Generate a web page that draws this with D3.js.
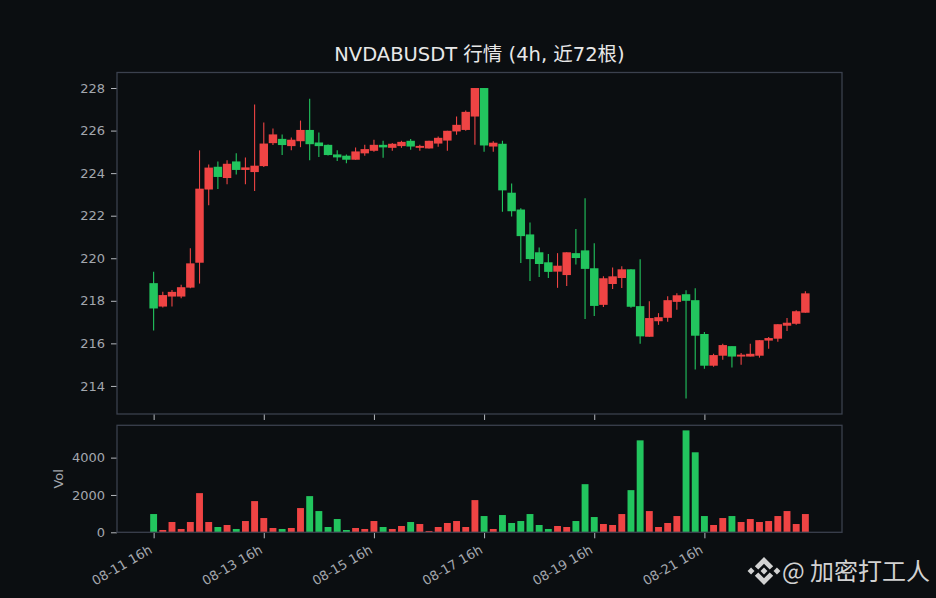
<!DOCTYPE html>
<html>
<head>
<meta charset="utf-8">
<script src="https://cdn.jsdelivr.net/npm/d3@7/dist/d3.min.js"></script>
<style>
  html, body { margin: 0; padding: 0; background: #0b0e11; }
  svg { display: block; }
  text { font-family: "DejaVu Sans", "Noto Sans CJK SC", sans-serif; }
</style>
</head>
<body>
<svg id="chart" width="936" height="598"></svg>
<script>
// ---------------- DATA ----------------
const titleText = "NVDABUSDT 行情 (4h, 近72根)";
const tickIndex = [0, 12, 24, 36, 48, 60];
const tickLabels = ["08-11 16h", "08-13 16h", "08-15 16h", "08-17 16h", "08-19 16h", "08-21 16h"];
const priceTicks = [214, 216, 218, 220, 222, 224, 226, 228];
const volTicks = [0, 2000, 4000];

const open = [218.83,217.73,218.20,218.20,218.62,219.79,223.23,224.30,223.77,224.55,
              224.15,224.05,224.33,225.41,225.61,225.27,225.50,226.03,225.44,225.33,
              224.88,224.82,224.63,224.93,225.05,225.33,225.19,225.27,225.52,225.19,
              225.16,225.39,225.53,225.96,226.03,226.66,228.00,225.25,225.38,223.08,
              222.29,221.12,220.28,219.81,219.37,219.21,220.24,220.37,219.53,217.81,
              218.79,219.07,219.48,217.75,216.31,217.04,217.20,217.95,218.31,218.03,
              216.44,214.95,215.42,215.87,215.38,215.38,215.42,216.13,216.22,216.83,
              216.92,217.44];
const high = [219.36,218.42,218.51,218.75,220.47,225.07,224.41,224.55,224.60,224.93,
              224.74,227.22,226.38,226.10,225.82,225.68,226.47,227.50,225.91,225.35,
              225.07,224.88,225.21,225.33,225.57,225.52,225.42,225.52,225.61,225.33,
              225.52,225.72,225.99,226.66,226.94,228.00,228.00,225.50,225.52,223.51,
              222.35,221.68,220.51,220.20,220.24,220.28,221.37,222.82,220.70,219.15,
              219.57,219.62,219.48,219.95,217.98,217.42,218.22,218.36,218.50,218.59,
              216.53,215.51,215.98,215.87,215.55,215.98,216.15,216.30,216.90,217.19,
              217.56,218.45];
const low = [216.61,217.69,217.73,218.12,218.59,218.81,222.49,223.26,223.48,223.94,
             223.48,223.16,224.29,225.32,224.85,225.08,225.22,224.61,224.76,224.83,
             224.57,224.47,224.63,224.82,225.00,224.72,225.05,225.19,225.10,225.05,
             225.16,225.24,225.05,225.80,225.99,225.33,225.00,225.00,222.19,221.96,
             219.78,218.93,219.12,219.07,218.61,218.70,219.71,217.15,217.29,217.71,
             218.56,218.60,217.67,215.98,216.31,216.87,217.01,217.58,213.41,214.77,
             214.81,214.90,215.23,214.86,215.00,215.38,215.33,215.75,216.08,216.58,
             216.87,217.44];
const close = [217.64,218.27,218.42,218.64,219.76,223.27,224.26,223.82,224.44,224.15,
               224.27,224.35,225.39,225.82,225.32,225.57,226.03,225.36,225.27,224.85,
               224.74,224.63,225.02,225.13,225.33,225.21,225.38,225.47,225.25,225.28,
               225.52,225.66,225.99,226.27,226.88,228.00,225.30,225.43,223.19,222.21,
               221.04,219.96,219.73,219.36,219.65,220.28,220.01,219.50,217.76,219.06,
               219.15,219.48,217.72,216.33,217.19,217.23,218.03,218.26,218.00,216.36,
               214.95,215.45,215.92,215.38,215.47,215.51,216.15,216.25,216.90,216.97,
               217.51,218.35];
const volume = [978,124,551,178,551,2098,551,284,391,178,
                604,1671,764,231,178,231,1298,1938,1138,284,
                711,124,231,178,604,284,178,338,551,444,
                71,284,498,604,284,1725,871,178,925,498,
                604,978,391,178,338,284,604,2578,818,444,
                391,978,2258,4925,1138,284,498,871,5458,4285,
                871,391,764,871,551,711,551,604,871,1138,
                444,978];

// ---------------- STYLE ----------------
const UP = "#ef4444", DOWN = "#22c55e";
const BG = "#0b0e11", SPINE = "#3b414e", TXT = "#a3a7ae", TICK = "#b5b8bd";

const svg = d3.select("#chart");
svg.append("rect").attr("width", 936).attr("height", 598).attr("fill", BG);

const L = 117, R = 842;
const pTop = 72.5, pBot = 414;
const vTop = 425.3, vBot = 532.3;

const candles = open.map((o, i) => ({ i, o, h: high[i], l: low[i], c: close[i], v: volume[i] }));
const n = candles.length;

const bw = 0.8;
const xPad = (n - 1 + bw) * 0.05 + bw / 2;
const x = d3.scaleLinear().domain([-xPad, n - 1 + xPad]).range([L, R]);

const pMin = d3.min(low), pMax = d3.max(high);
const pm = (pMax - pMin) * 0.05;
const y = d3.scaleLinear().domain([pMin - pm, pMax + pm]).range([pBot, pTop]);
const yv = d3.scaleLinear().domain([0, d3.max(volume) * 1.05]).range([vBot, vTop]);

const unit = x(1) - x(0);
const bodyW = unit * 0.92, volW = unit * 0.75;
const col = d => d.c >= d.o ? UP : DOWN;

// ---------------- PRICE PANEL ----------------
const gP = svg.append("g");
gP.selectAll("line.wick").data(candles).join("line")
  .attr("x1", d => x(d.i)).attr("x2", d => x(d.i))
  .attr("y1", d => y(d.h)).attr("y2", d => y(d.l))
  .attr("stroke", col).attr("stroke-width", 1.1);
gP.selectAll("rect.body").data(candles).join("rect")
  .attr("x", d => x(d.i) - bodyW / 2)
  .attr("width", bodyW)
  .attr("y", d => y(Math.max(d.o, d.c)))
  .attr("height", d => Math.max(1, Math.abs(y(d.o) - y(d.c))))
  .attr("fill", col);

// ---------------- VOLUME PANEL ----------------
const gV = svg.append("g");
gV.selectAll("rect").data(candles).join("rect")
  .attr("x", d => x(d.i) - volW / 2)
  .attr("width", volW)
  .attr("y", d => yv(d.v))
  .attr("height", d => vBot - yv(d.v))
  .attr("fill", col);

// ---------------- AXES ----------------
function styleAxis(g) {
  g.select(".domain").remove();
  g.selectAll(".tick line").attr("stroke", TICK).attr("stroke-width", 1);
  g.selectAll(".tick text").attr("fill", TXT).style("font-size", "13px");
}
const yAxisP = d3.axisLeft(y).tickValues(priceTicks).tickFormat(d3.format("d")).tickSize(6).tickPadding(6);
svg.append("g").attr("transform", `translate(${L},0)`).call(yAxisP).call(styleAxis);

const yAxisV = d3.axisLeft(yv).tickValues(volTicks).tickFormat(d3.format("d")).tickSize(6).tickPadding(6);
svg.append("g").attr("transform", `translate(${L},0)`).call(yAxisV).call(styleAxis);

const xAxisP = d3.axisBottom(x).tickValues(tickIndex).tickFormat("").tickSize(6);
svg.append("g").attr("transform", `translate(0,${pBot})`).call(xAxisP).call(styleAxis);

const xAxisV = d3.axisBottom(x).tickValues(tickIndex).tickFormat((d, k) => tickLabels[k]).tickSize(6).tickPadding(6);
const gx = svg.append("g").attr("transform", `translate(0,${vBot})`).call(xAxisV).call(styleAxis);
gx.selectAll(".tick text")
  .attr("text-anchor", "end")
  .attr("dy", null).attr("y", null)
  .attr("transform", "translate(-1,20) rotate(-30)");

// spines
[[pTop, pBot], [vTop, vBot]].forEach(([t, b]) => {
  svg.append("rect").attr("x", L).attr("y", t).attr("width", R - L).attr("height", b - t)
    .attr("fill", "none").attr("stroke", SPINE).attr("stroke-width", 1.3);
});

// labels
svg.append("text").attr("x", 58).attr("y", (vTop + vBot) / 2)
  .attr("transform", `rotate(-90,58,${(vTop + vBot) / 2})`)
  .attr("text-anchor", "middle").attr("dy", "0.35em")
  .attr("fill", TXT).style("font-size", "13px").text("Vol");

svg.append("text").attr("x", (L + R) / 2).attr("y", 61)
  .attr("text-anchor", "middle").attr("fill", "#e8e8e8")
  .style("font-size", "19.5px").text(titleText);

// watermark
const wm = svg.append("g").attr("fill", "#d2d2d2");
const lg = wm.append("g").attr("transform", "translate(764,571) scale(1.08)");
lg.append("path").attr("d", "M0,-3.2 L3.2,0 L0,3.2 L-3.2,0 Z");
lg.append("path").attr("d", "M-12,-3.2 L-8.8,0 L-12,3.2 L-15.2,0 Z");
lg.append("path").attr("d", "M12,-3.2 L15.2,0 L12,3.2 L8.8,0 Z");
lg.append("path").attr("d", "M0,-13 L8.5,-4.5 L5.3,-1.3 L0,-6.6 L-5.3,-1.3 L-8.5,-4.5 Z");
lg.append("path").attr("d", "M0,13 L8.5,4.5 L5.3,1.3 L0,6.6 L-5.3,1.3 L-8.5,4.5 Z");
wm.append("text").attr("x", 782).attr("y", 580)
  .style("font-family", "'Noto Sans CJK SC', sans-serif").style("font-size", "24px")
  .text("@ 加密打工人");
</script>
</body>
</html>
